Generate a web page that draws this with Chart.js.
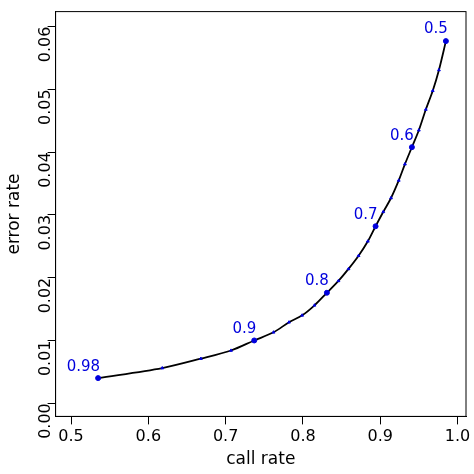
<!DOCTYPE html>
<html><head><meta charset="utf-8">
<script src="https://cdn.jsdelivr.net/npm/chart.js@4"></script>
<style>html,body{margin:0;padding:0;background:#fff}#w{width:474px;height:474px}</style>
</head><body><div id="w"><canvas id="c"></canvas></div>
<script>
const thresholds=[0.5,0.52,0.54,0.56,0.58,0.6,0.62,0.64,0.66,0.68,0.7,0.72,0.74,0.76,0.78,0.8,0.82,0.84,0.86,0.88,0.9,0.92,0.94,0.96,0.98];
const callRate=[0.985,0.976,0.968,0.959,0.950,0.941,0.932,0.924,0.914,0.904,0.894,0.884,0.872,0.859,0.846,0.831,0.815,0.799,0.782,0.762,0.737,0.707,0.668,0.618,0.535];
const errorRate=[0.0577,0.0531,0.0498,0.0468,0.0435,0.0408,0.0381,0.0355,0.0327,0.0305,0.0282,0.0258,0.0235,0.0214,0.0195,0.0176,0.0156,0.0140,0.0129,0.0113,0.0100,0.0084,0.0071,0.0056,0.0040];
const labelled=["0.5","0.6","0.7","0.8","0.9","0.98"];
const xTicks=[0.5,0.6,0.7,0.8,0.9,1.0];
const yTicks=[0,0.01,0.02,0.03,0.04,0.05,0.06];
const pts=callRate.map((x,i)=>({x,y:errorRate[i]}));
const isLab=i=>labelled.includes(String(thresholds[i]));
const F="DejaVu Sans";
const box={id:'box',afterDraw(ch){const a=ch.chartArea,c=ch.ctx;c.save();c.strokeStyle='#000';c.lineWidth=1;c.strokeRect(a.left,a.top,a.right-a.left,a.bottom-a.top);
 c.fillStyle='#0000dd';c.font='15px '+F;c.textAlign='right';c.textBaseline='bottom';
 const m=ch.getDatasetMeta(0);m.data.forEach((p,i)=>{if(isLab(i))c.fillText(String(thresholds[i]),p.x+2,p.y-4);});c.restore();}};
new Chart(document.getElementById('c'),{type:'scatter',
data:{datasets:[{data:pts,showLine:true,borderColor:'#000',borderWidth:1.8,tension:0.3,
 pointBackgroundColor:'#0000dd',pointBorderColor:'#0000dd',
 pointStyle:pts.map((p,i)=>isLab(i)?'circle':'triangle'),
 pointRadius:pts.map((p,i)=>isLab(i)?2.5:1.6),pointBorderWidth:1}]},
options:{responsive:true,maintainAspectRatio:false,animation:false,
 layout:{padding:{top:5,right:8,left:0,bottom:0}},
 plugins:{legend:{display:false},tooltip:{enabled:false}},
 scales:{
  x:{type:'linear',min:0.48,max:1.011,afterBuildTicks:s=>{s.ticks=xTicks.map(v=>({value:v}));},
   grid:{drawOnChartArea:false,tickLength:8,color:'#000'},border:{color:'#000'},
   ticks:{color:'#000',font:{family:F,size:16},callback:v=>v.toFixed(1),maxRotation:0},
   title:{display:true,text:'call rate',color:'#000',font:{family:F,size:17},padding:{top:0}}},
  y:{type:'linear',min:-0.0021,max:0.0624,afterBuildTicks:s=>{s.ticks=yTicks.map(v=>({value:v}));},
   grid:{drawOnChartArea:false,tickLength:8,color:'#000'},border:{color:'#000'},
   ticks:{color:'#000',font:{family:F,size:16},callback:v=>v.toFixed(2),minRotation:90,maxRotation:90,padding:2},
   title:{display:true,text:'error rate',color:'#000',font:{family:F,size:17},padding:{bottom:0}}}}},
plugins:[box]});
</script></body></html>
